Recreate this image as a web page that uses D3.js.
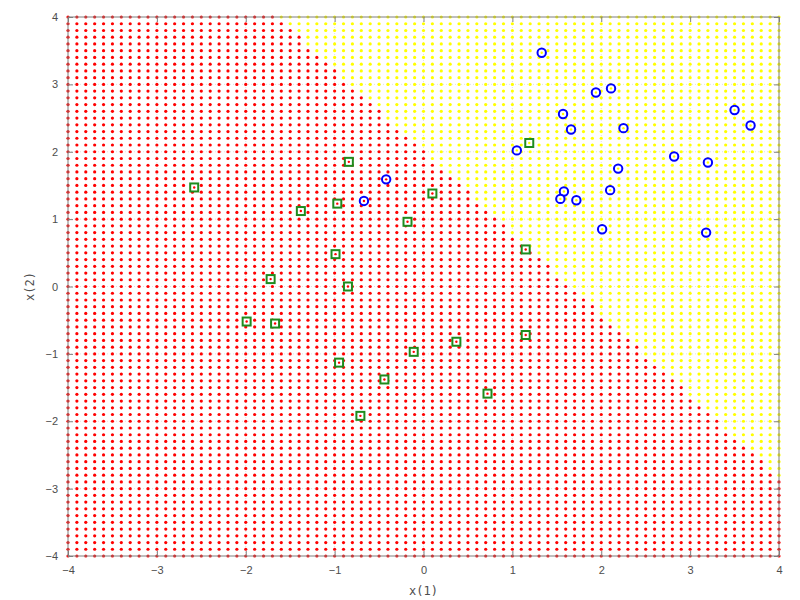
<!DOCTYPE html>
<html>
<head>
<meta charset="utf-8">
<script src="https://cdn.jsdelivr.net/npm/d3@7"></script>
<style>
  body { margin: 0; background: #fff; }
  .tick text { font-family: "Liberation Sans", Arial, sans-serif; font-size: 11px; fill: #4d4d4d; }
  .axis-label { font-family: "DejaVu Sans Mono", "Liberation Mono", monospace; font-size: 12px; fill: #4d4d4d; }
</style>
</head>
<body>
<div id="chart"></div>
<script>
// class 1 (blue circles)
var class1X = [1.33, 1.94, 2.11, 1.57, 1.66, 2.25, 3.50, 3.68, 1.05, 2.82,
               3.20, 2.19, 1.58, 2.10, 1.54, 1.72, 2.01, 3.18, -0.42, -0.67];
var class1Y = [3.47, 2.88, 2.94, 2.56, 2.33, 2.35, 2.62, 2.39, 2.02, 1.93,
               1.84, 1.75, 1.41, 1.43, 1.30, 1.28, 0.85, 0.80, 1.59, 1.27];

// class 2 (green squares)
var class2X = [1.19, -0.84, -2.58, 0.10, -0.97, -1.38, -0.18, 1.15, -0.99, -1.72,
               -0.85, -1.99, -1.67, 1.15, 0.37, -0.11, -0.95, -0.44, 0.72, -0.71];
var class2Y = [2.13, 1.85, 1.47, 1.38, 1.23, 1.12, 0.96, 0.55, 0.48, 0.11,
               0.00, -0.52, -0.55, -0.72, -0.82, -0.97, -1.13, -1.38, -1.59, -1.92];

// linear decision boundary w1*x1 + w2*x2 + b = 0
var boundaryW = [1.21, 1];
var boundaryB = -2.01;
var meshStep = 0.1;

var ticks = [-4, -3, -2, -1, 0, 1, 2, 3, 4];

var width = 800, height = 600;
var margin = {top: 17, right: 21, bottom: 44, left: 68};

var svg = d3.select('#chart').append('svg')
    .attr('width', width)
    .attr('height', height);

var x = d3.scaleLinear().domain([-4, 4]).range([margin.left, width - margin.right]);
var y = d3.scaleLinear().domain([-4, 4]).range([height - margin.bottom, margin.top]);

function predict(a, b) {
    return boundaryW[0] * a + boundaryW[1] * b + boundaryB > 0 ? 1 : 2;
}
var classColor = {1: '#ffff00', 2: '#ff0000'};

// grid lines
svg.append('g').selectAll('line.gx')
    .data(ticks.slice(1, -1))
    .enter().append('line')
    .attr('x1', d => x(d)).attr('x2', d => x(d))
    .attr('y1', y(-4)).attr('y2', y(4))
    .attr('stroke', '#d9d9d9').attr('stroke-width', 0.8)
    .attr('stroke-dasharray', '1,2');
svg.append('g').selectAll('line.gy')
    .data(ticks.slice(1, -1))
    .enter().append('line')
    .attr('y1', d => y(d)).attr('y2', d => y(d))
    .attr('x1', x(-4)).attr('x2', x(4))
    .attr('stroke', '#d9d9d9').attr('stroke-width', 0.8)
    .attr('stroke-dasharray', '1,2');

// classified mesh
var mesh = [];
d3.range(0, 81).forEach(i => {
    d3.range(0, 81).forEach(j => {
        var a = -4 + i * meshStep, b = -4 + j * meshStep;
        mesh.push({a: a, b: b, c: predict(a, b)});
    });
});
svg.append('g').selectAll('circle')
    .data(mesh)
    .enter().append('circle')
    .attr('cx', d => x(d.a))
    .attr('cy', d => y(d.b))
    .attr('r', 1.6)
    .attr('fill', d => classColor[d.c]);

// samples
var pts1 = class1X.map((v, i) => ({a: v, b: class1Y[i]}));
var pts2 = class2X.map((v, i) => ({a: v, b: class2Y[i]}));

svg.append('g').selectAll('circle')
    .data(pts1)
    .enter().append('circle')
    .attr('cx', d => x(d.a)).attr('cy', d => y(d.b))
    .attr('r', 4.2)
    .attr('fill', '#fff')
    .attr('stroke', '#0000ff').attr('stroke-width', 2);

svg.append('g').selectAll('rect')
    .data(pts2)
    .enter().append('rect')
    .attr('x', d => x(d.a) - 4).attr('y', d => y(d.b) - 4)
    .attr('width', 8).attr('height', 8)
    .attr('fill', '#fff')
    .attr('stroke', '#1e8c1e').attr('stroke-width', 2);

svg.append('g').selectAll('circle')
    .data(pts1.concat(pts2))
    .enter().append('circle')
    .attr('cx', d => x(d.a)).attr('cy', d => y(d.b))
    .attr('r', 1.2)
    .attr('fill', d => classColor[predict(d.a, d.b)]);

// axes, box with inward ticks on every side
var fmt = d3.format('d');
var axisColor = '#7f7f7f';
function styleAxis(g) {
    g.select('.domain').remove();
    g.selectAll('.tick line').attr('stroke', axisColor);
}
svg.append('g')
    .attr('transform', `translate(0,${y(-4)})`)
    .call(d3.axisBottom(x).tickValues(ticks).tickFormat(fmt).tickSizeInner(-5).tickSizeOuter(0).tickPadding(10))
    .call(styleAxis);
svg.append('g')
    .attr('transform', `translate(0,${y(4)})`)
    .call(d3.axisTop(x).tickValues(ticks).tickFormat('').tickSizeInner(-5).tickSizeOuter(0))
    .call(styleAxis);
svg.append('g')
    .attr('transform', `translate(${x(-4)},0)`)
    .call(d3.axisLeft(y).tickValues(ticks).tickFormat(fmt).tickSizeInner(-5).tickSizeOuter(0).tickPadding(10))
    .call(styleAxis);
svg.append('g')
    .attr('transform', `translate(${x(4)},0)`)
    .call(d3.axisRight(y).tickValues(ticks).tickFormat('').tickSizeInner(-5).tickSizeOuter(0))
    .call(styleAxis);

svg.append('rect')
    .attr('x', x(-4)).attr('y', y(4))
    .attr('width', x(4) - x(-4)).attr('height', y(-4) - y(4))
    .attr('fill', 'none')
    .attr('stroke', axisColor).attr('stroke-width', 1);

svg.append('text')
    .attr('class', 'axis-label')
    .attr('x', (x(-4) + x(4)) / 2)
    .attr('y', height - 5)
    .attr('text-anchor', 'middle')
    .text('x(1)');

svg.append('text')
    .attr('class', 'axis-label')
    .attr('transform', `translate(34,${(y(-4) + y(4)) / 2}) rotate(-90)`)
    .attr('text-anchor', 'middle')
    .text('x(2)');
</script>
</body>
</html>
